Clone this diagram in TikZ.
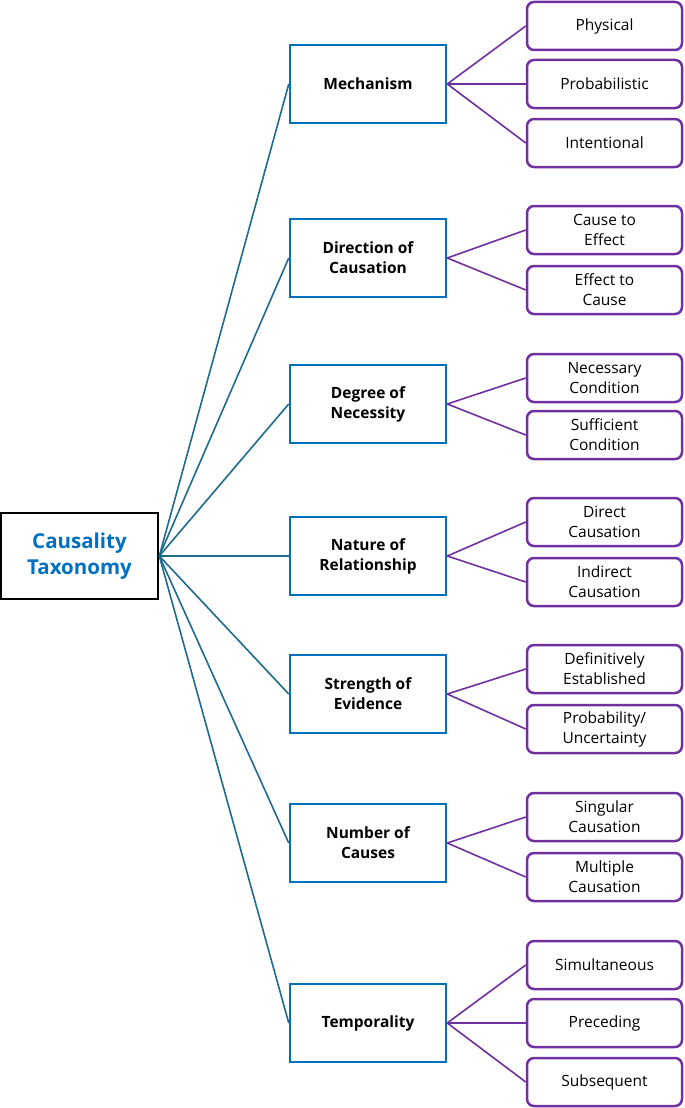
\documentclass[tikz,border=0pt]{standalone}
\usepackage{fontspec}
\setmainfont{Open Sans}
\definecolor{rootblue}{HTML}{0070C0}
\definecolor{midblue}{HTML}{0070C0}
\definecolor{leafpurple}{HTML}{7030A0}
\definecolor{edgeteal}{HTML}{1F6B8C}
\tikzset{
  rootbox/.style={draw=black, line width=2.6pt, minimum width=157pt, minimum height=86pt, inner sep=0pt, align=center, text=rootblue, font=\fontsize{20.5}{26}\selectfont\bfseries},
  midbox/.style={draw=midblue, line width=2.5pt, minimum width=156pt, minimum height=78pt, inner sep=0pt, align=center, font=\fontsize{15.5}{20}\selectfont\bfseries},
  leafbox/.style={draw=leafpurple, line width=2.5pt, rounded corners=7pt, minimum width=155pt, minimum height=48pt, inner sep=0pt, align=center, font=\fontsize{15.5}{20}\selectfont},
  rootedge/.style={draw=edgeteal, line width=1.6pt},
  leafedge/.style={draw=leafpurple, line width=1.6pt},
}
\begin{document}
\begin{tikzpicture}[x=1pt,y=-1pt]
\useasboundingbox (0,0) rectangle (685,1108);
\node[rootbox] (root) at (79.5,556) {Causality\\Taxonomy};

\node[midbox] (m1) at (368,84) {Mechanism};
\node[midbox] (m2) at (368,258) {Direction of\\Causation};
\node[midbox] (m3) at (368,404) {Degree of\\Necessity};
\node[midbox] (m4) at (368,556) {Nature of\\Relationship};
\node[midbox] (m5) at (368,694) {Strength of\\Evidence};
\node[midbox] (m6) at (368,843) {Number of\\Causes};
\node[midbox] (m7) at (368,1023) {Temporality};

\node[leafbox] (l11) at (604.5,26) {Physical};
\node[leafbox] (l12) at (604.5,84) {Probabilistic};
\node[leafbox] (l13) at (604.5,143) {Intentional};
\node[leafbox] (l21) at (604.5,230) {Cause to\\Effect};
\node[leafbox] (l22) at (604.5,290) {Effect to\\Cause};
\node[leafbox] (l31) at (604.5,378) {Necessary\\Condition};
\node[leafbox] (l32) at (604.5,435) {Sufficient\\Condition};
\node[leafbox] (l41) at (604.5,522) {Direct\\Causation};
\node[leafbox] (l42) at (604.5,582) {Indirect\\Causation};
\node[leafbox] (l51) at (604.5,669) {Definitively\\Established};
\node[leafbox] (l52) at (604.5,729) {Probability/\\Uncertainty};
\node[leafbox] (l61) at (604.5,817) {Singular\\Causation};
\node[leafbox] (l62) at (604.5,877) {Multiple\\Causation};
\node[leafbox] (l71) at (604.5,965) {Simultaneous};
\node[leafbox] (l72) at (604.5,1023) {Preceding};
\node[leafbox] (l73) at (604.5,1082) {Subsequent};

\foreach \m in {m1,m2,m3,m4,m5,m6,m7}
  \draw[rootedge] (root.east) -- (\m.west);

\foreach \m/\l in {m1/l11,m1/l12,m1/l13,m2/l21,m2/l22,m3/l31,m3/l32,m4/l41,m4/l42,m5/l51,m5/l52,m6/l61,m6/l62,m7/l71,m7/l72,m7/l73}
  \draw[leafedge] (\m.east) -- (\l.west);
\end{tikzpicture}
\end{document}
